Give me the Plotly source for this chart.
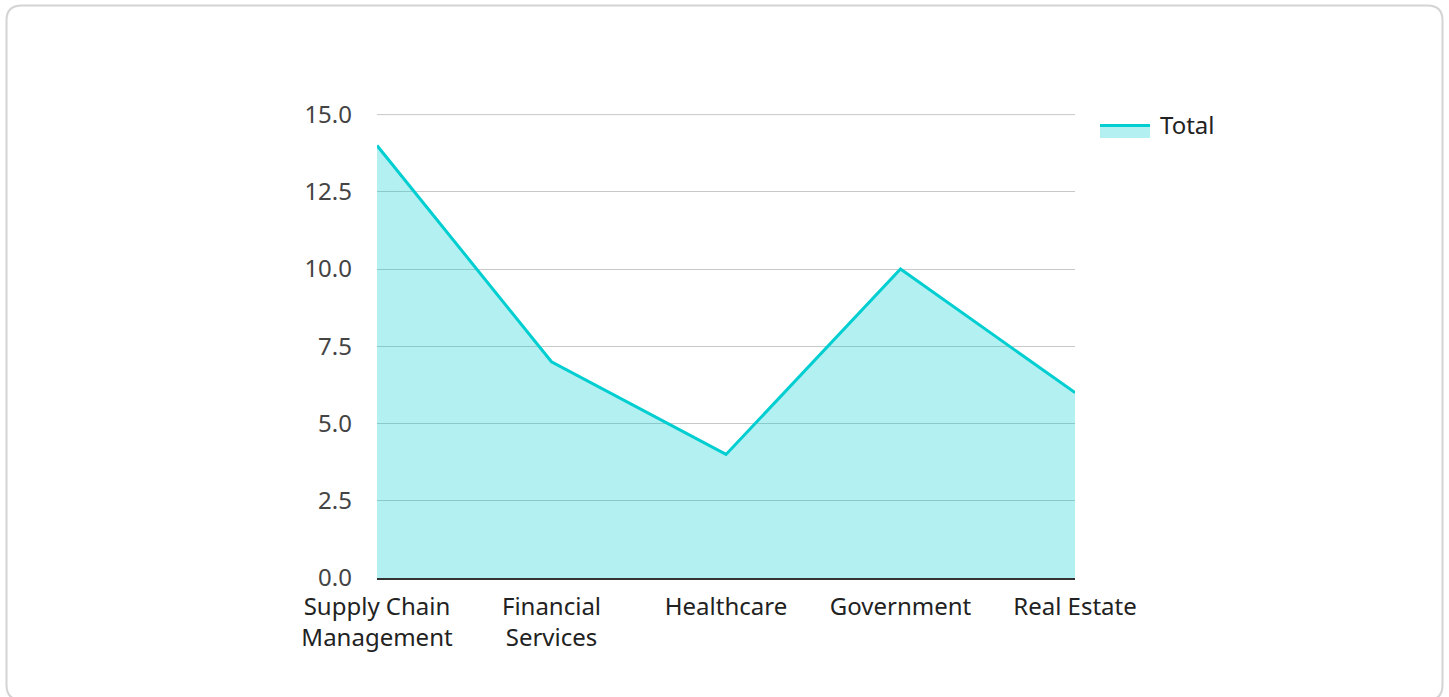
import plotly.graph_objects as go

categories = ["Supply Chain<br>Management", "Financial<br>Services", "Healthcare", "Government", "Real Estate"]
values = [14, 7, 4, 10, 6]
series_name = "Total"
y_ticks = [0, 2.5, 5, 7.5, 10, 12.5, 15]
y_tick_labels = ["0.0", "2.5", "5.0", "7.5", "10.0", "12.5", "15.0"]

W, H = 1449, 697
L, R, T, B = 377, 374, 114, 119
pw, ph = W - L - R, H - T - B

def px(x):
    return (x - L) / pw

def py(y):
    return (H - B - y) / ph

LINE = "#00CED1"
FILL = "rgba(0,206,209,0.3)"
GRID = "#c8c8c8"

fig = go.Figure()
fig.add_trace(go.Scatter(
    x=categories, y=values, name=series_name, mode="lines",
    line=dict(color=LINE, width=3),
    fill="tozeroy", fillcolor=FILL, showlegend=False,
))

# top gridline (at the range edge)
fig.add_shape(type="line", xref="paper", yref="y", x0=0, x1=1,
              y0=y_ticks[-1], y1=y_ticks[-1], line=dict(color=GRID, width=1),
              layer="below")

# rounded border of the card
x0, x1, y0, y1, r = 6.5, 1442.5, 5.5, 700, 15
path = (
    f"M {px(x0+r)},{py(y0)} L {px(x1-r)},{py(y0)} "
    f"Q {px(x1)},{py(y0)} {px(x1)},{py(y0+r)} "
    f"L {px(x1)},{py(y1-r)} Q {px(x1)},{py(y1)} {px(x1-r)},{py(y1)} "
    f"L {px(x0+r)},{py(y1)} Q {px(x0)},{py(y1)} {px(x0)},{py(y1-r)} "
    f"L {px(x0)},{py(y0+r)} Q {px(x0)},{py(y0)} {px(x0+r)},{py(y0)} Z"
)
fig.add_shape(type="path", path=path, xref="paper", yref="paper",
              line=dict(color="#d4d4d4", width=2), layer="below")

# custom legend
fig.add_shape(type="rect", xref="paper", yref="paper",
              x0=px(1100), x1=px(1150), y0=py(138), y1=py(126),
              fillcolor=FILL, line=dict(width=0))
fig.add_shape(type="line", xref="paper", yref="paper",
              x0=px(1100), x1=px(1150), y0=py(125.5), y1=py(125.5),
              line=dict(color=LINE, width=3))
fig.add_annotation(text=series_name, xref="paper", yref="paper",
                   x=px(1158), y=py(125), xanchor="left", yanchor="middle",
                   showarrow=False, font=dict(size=24, color="#222222"))

fig.update_layout(
    width=W, height=H,
    margin=dict(l=L, r=R, t=T, b=B, pad=0),
    paper_bgcolor="white", plot_bgcolor="white",
    font=dict(family="Noto Sans", size=24, color="#333333"),
    showlegend=False,
    xaxis=dict(
        range=[0, 4], showgrid=False, showline=True, linecolor="#333333", linewidth=2,
        ticks="", tickfont=dict(size=24, color="#222222"), zeroline=False,
        ticklabelstandoff=6,
    ),
    yaxis=dict(
        range=[0, 15.02], tickvals=y_ticks, ticktext=y_tick_labels,
        showgrid=True, gridcolor=GRID, gridwidth=1, zeroline=False,
        showline=False, ticks="", ticklabelstandoff=24,
        tickfont=dict(size=24, color="#444444"),
    ),
)

fig.write_html("out.html")
